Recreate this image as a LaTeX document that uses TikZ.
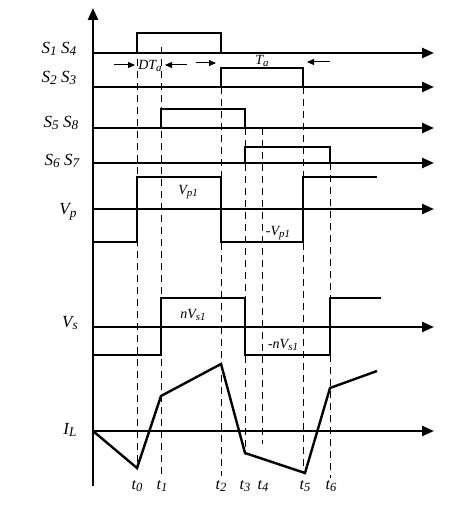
\documentclass[tikz,border=0pt]{standalone}
\usepackage{fontspec}
\usepackage{graphicx}
\setmainfont{Liberation Serif}
\usetikzlibrary{arrows.meta}
\newcommand\sbs[1]{\raisebox{-0.3ex}{\scalebox{0.78}{#1}}}
\begin{document}
\begin{tikzpicture}[x=1pt,y=-1pt,
  axisline/.style={line width=2.4pt,-{Triangle[length=12pt,width=10pt]}},
  wave/.style={line width=2.4pt,line join=miter},
  guide/.style={line width=0.9pt,dash pattern=on 7pt off 5pt},
  marker/.style={line width=1pt,-{Triangle[length=7pt,width=6pt]}},
  lbl/.style={font=\fontsize{17}{20}\selectfont\itshape,inner sep=0pt},
  vlbl/.style={font=\fontsize{14}{16}\selectfont\itshape,inner sep=0pt},
  tlbl/.style={font=\fontsize{16}{18}\selectfont\itshape,inner sep=0pt}]
\useasboundingbox (0,0) rectangle (474,511);
% vertical axis
\coordinate (vb) at (93,486);
\coordinate (vt) at (93,8);
% horizontal axes
\foreach \n/\y in {a1/53,a2/87,a3/128,a4/163,ap/209,as/327,ai/431}{
  \coordinate (\n s) at (93,\y);
  \coordinate (\n e) at (434,\y);
}
% guide lines
\coordinate (g0t) at (137,47);  \coordinate (g0b) at (137,468);
\coordinate (g1t) at (161,47);  \coordinate (g1b) at (161,476);
\coordinate (g2t) at (221,87);  \coordinate (g2b) at (221,476);
\coordinate (g3t) at (245,128); \coordinate (g3b) at (245,455);
\coordinate (g4t) at (262,128); \coordinate (g4b) at (262,444);
\coordinate (g5t) at (303,87);  \coordinate (g5b) at (303,472);
\coordinate (g6t) at (330,163); \coordinate (g6b) at (330,478);
\foreach \i in {0,...,6}{\draw[guide] (g\i t) -- (g\i b);}
% axes
\draw[axisline] (vb) -- (vt);
\foreach \n in {a1,a2,a3,a4,ap,as,ai}{\draw[axisline] (\n s) -- (\n e);}
% switching pulses
\draw[wave] (137,53) -- (137,33) -- (221,33) -- (221,53);
\draw[wave] (221,87) -- (221,68) -- (303,68) -- (303,87);
\draw[wave] (161,128) -- (161,109) -- (245,109) -- (245,128);
\draw[wave] (245,163) -- (245,147) -- (330,147) -- (330,163);
% Vp
\draw[wave] (93,242) -- (137,242) -- (137,177) -- (221,177) -- (221,242) -- (303,242) -- (303,177) -- (377,177);
% Vs
\draw[wave] (93,355) -- (161,355) -- (161,298) -- (245,298) -- (245,355) -- (330,355) -- (330,298) -- (381,298);
% IL
\draw[wave] (93,431) -- (137,468) -- (161,396) -- (221,364) -- (245,453) -- (305,473) -- (330,388) -- (377,371);
% left labels
\node[lbl] (l1) at (59,49) {S\sbs{1} S\sbs{4}};
\node[lbl] (l2) at (59,78) {S\sbs{2} S\sbs{3}};
\node[lbl] (l3) at (61,123) {S\sbs{5} S\sbs{8}};
\node[lbl] (l4) at (62,161) {S\sbs{6} S\sbs{7}};
\node[lbl] (lp) at (68,212) {V\sbs{p}};
\node[lbl] (ls) at (70,323) {V\sbs{s}};
\node[lbl] (li) at (70,430) {I\sbs{L}};
% value labels
\node[vlbl] (vp1) at (188,192) {V\sbs{p1}};
\node[vlbl] (vpm) at (278,233) {-V\sbs{p1}};
\node[vlbl] (vs1) at (193,315) {nV\sbs{s1}};
\node[vlbl] (vsm) at (283,345) {-nV\sbs{s1}};
% interval markers
\node[vlbl] (dt) at (150,66) {DT\sbs{a}};
\coordinate (d1) at (114,65); \coordinate (d1e) at (135,65);
\coordinate (d2) at (187,65); \coordinate (d2e) at (165,65);
\draw[marker] (d1) -- (d1e);
\draw[marker] (d2) -- (d2e);
\node[vlbl] (ta) at (262,61) {T\sbs{a}};
\coordinate (e1) at (196,63); \coordinate (e1e) at (216,63);
\coordinate (e2) at (330,62); \coordinate (e2e) at (307,62);
\draw[marker] (e1) -- (e1e);
\draw[marker] (e2) -- (e2e);
% time labels
\node[tlbl] (t0) at (137,486) {t\sbs{0}};
\node[tlbl] (t1) at (162,486) {t\sbs{1}};
\node[tlbl] (t2) at (221,486) {t\sbs{2}};
\node[tlbl] (t3) at (245,486) {t\sbs{3}};
\node[tlbl] (t4) at (263,486) {t\sbs{4}};
\node[tlbl] (t5) at (305,486) {t\sbs{5}};
\node[tlbl] (t6) at (331,486) {t\sbs{6}};
\end{tikzpicture}
\end{document}
